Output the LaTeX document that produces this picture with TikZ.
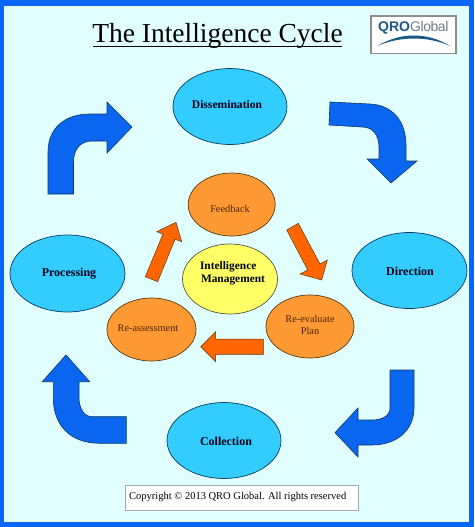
\documentclass[tikz,border=0pt]{standalone}
\usepackage{fontspec}
\setmainfont{Liberation Serif}
\newfontfamily\logofont{Liberation Sans}
\usetikzlibrary{shapes.geometric}
\definecolor{frameblue}{HTML}{0A66F5}
\definecolor{panel}{HTML}{E2FFFF}
\definecolor{skyfill}{HTML}{33CCFF}
\definecolor{orangefill}{HTML}{FF9933}
\definecolor{arrorange}{HTML}{FF6600}
\definecolor{arrblue}{HTML}{0A66F0}
\definecolor{sunfill}{HTML}{FFFF66}
\definecolor{edgeline}{HTML}{0B3A5C}
\definecolor{orangeline}{HTML}{5A3A10}
\definecolor{logonavy}{HTML}{1B5A85}
\definecolor{logogray}{HTML}{6F7F88}
\definecolor{brownink}{HTML}{4A2408}
\tikzset{
  x=1pt,y=-1pt,
  oval/.style={ellipse,draw,line width=0.7pt,inner sep=0pt,minimum width=#1},
  outeroval/.style={oval=#1,fill=skyfill,draw=edgeline},
  inneroval/.style={oval=#1,fill=orangefill,draw=orangeline},
  outerlabel/.style={inner sep=0pt,text=black!90!blue,font=\fontsize{12}{14}\selectfont\bfseries},
  innerlabel/.style={inner sep=0pt,align=center,text=brownink,font=\fontsize{10.3}{12}\selectfont},
  bigarrow/.style={fill=arrblue,draw=edgeline,line width=0.6pt,line join=miter},
  smallarrow/.style={fill=arrorange,draw=orangeline,line width=0.5pt,line join=miter},
}
\begin{document}
\begin{tikzpicture}
\useasboundingbox (0,0) rectangle (474,527);
\fill[frameblue] (0,0) rectangle (474,527);
\fill[panel] (4,6) rectangle (468.5,521.5);

% title
\node[font=\fontsize{27.5}{30}\selectfont,anchor=base] (title) at (217.5,43) {The Intelligence Cycle};
\draw[line width=1.1pt] (93,46.5) -- (342,46.5);

% logo
\node[draw=black!45,line width=1.3pt,fill=white,minimum width=85pt,minimum height=37.5pt,inner sep=0pt] (logo) at (413.5,34.7) {};
\node[anchor=base west,inner sep=0pt,font=\logofont\fontsize{14}{16}\selectfont] (logotext) at (378,32) {\textcolor{logonavy}{\textbf{QRO}}\textcolor{logogray}{\addfontfeature{LetterSpace=-3}Global}};
\fill[logonavy] (377.5,46) .. controls (400,32) and (428,32) .. (450,46) .. controls (428,36) and (400,36) .. (377.5,46) -- cycle;

% outer ovals
\node[outeroval=114pt,minimum height=76pt] (dissemination) at (230,106.5) {};
\node[outerlabel,font=\fontsize{11.6}{14}\selectfont\bfseries] (disslabel) at (227,104.5) {Dissemination};
\node[outeroval=115pt,minimum height=77pt] (processing) at (67.5,273.5) {};
\node[outerlabel] (proclabel) at (69,274) {Processing};
\node[outeroval=115pt,minimum height=76pt] (direction) at (409.5,270.5) {};
\node[outerlabel] (dirlabel) at (410,271) {Direction};
\node[outeroval=114pt,minimum height=76pt] (collection) at (224,440.5) {};
\node[outerlabel] (colllabel) at (226,441) {Collection};

% inner ovals
\node[inneroval=87pt,minimum height=63pt] (feedback) at (231.7,204.5) {};
\node[innerlabel] (feedlabel) at (230,209) {Feedback};
\node[oval=95pt,fill=sunfill,draw=black!75!yellow,minimum height=70pt] (management) at (230,279) {};
\node[inner sep=0pt,align=left,font=\fontsize{11.4}{12.8}\selectfont\bfseries] (mgmtlabel) at (232.5,273) {Intelligence\\\hspace{1pt}Management};
\node[inneroval=89pt,minimum height=63pt] (reassess) at (151.5,329.5) {};
\node[innerlabel] (reasslabel) at (148,328) {Re-assessment};
\node[inneroval=88pt,minimum height=63pt] (reeval) at (310,326.5) {};
\node[innerlabel] (reevallabel) at (310,325) {Re-evaluate\\Plan};

% blue block arrows
\draw[bigarrow] (48,194) -- (48,152) .. controls (48,128) and (65,114) .. (90,114) -- (107,114) -- (107,102) -- (132,127) -- (107,153) -- (107,141) -- (92,141) .. controls (80,141) and (73.5,150) .. (73.5,162) -- (73.5,194) -- cycle;
\draw[bigarrow] (330,102) -- (370,104) .. controls (393,105) and (406,122) .. (406,145) -- (406,161) -- (417,161) -- (391,183) -- (367,159) -- (379,159) -- (379,148) .. controls (379,134) and (372,127) .. (362,127) -- (329,125) -- cycle;
\draw[bigarrow] (390,370) -- (414,370) -- (414,408) .. controls (414,430) and (397,445) .. (372,445) -- (358,445) -- (358,457) -- (335,432.7) -- (358,408) -- (358,420) -- (372,420) .. controls (382,420) and (390,416) .. (390,408) -- cycle;
\draw[bigarrow] (66,355) -- (89.7,381.7) -- (79,381.7) -- (79,398) .. controls (79,408) and (84,416.7) .. (92,416.7) -- (126.3,416.7) -- (126.3,443.3) -- (100,443.3) .. controls (70,443.3) and (53.3,425) .. (53.3,398) -- (53.3,381.7) -- (42.3,381.7) -- cycle;

% orange block arrows
\draw[smallarrow] (145.3,276.7) -- (163,234) -- (156.7,231.7) -- (176,222.3) -- (181.7,241.7) -- (175,239.3) -- (157.7,281.7) -- cycle;
\draw[smallarrow] (286.7,230) -- (298.3,223.3) -- (320,264) -- (327.3,260) -- (321.7,280) -- (300,274) -- (307.7,270) -- cycle;
\draw[smallarrow] (263.3,339) -- (263.3,354.3) -- (215.7,354.3) -- (215.7,361.7) -- (200.7,346.7) -- (215.7,331.7) -- (215.7,339) -- cycle;

% copyright
\node[draw=black!35,line width=1pt,fill=white,minimum width=233pt,minimum height=24.5pt,inner sep=0pt] (copybox) at (242,498) {};
\node[anchor=base west,inner sep=0pt,font=\fontsize{10.5}{13}\selectfont] (copytext) at (129,499.5) {Copyright © 2013 QRO Global. All rights reserved};
\end{tikzpicture}
\end{document}
